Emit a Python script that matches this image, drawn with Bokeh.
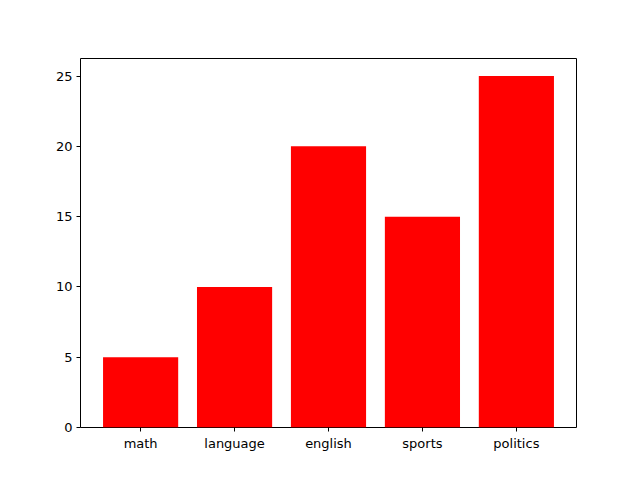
from bokeh.plotting import figure
from bokeh.models import Range1d, FixedTicker, ColumnDataSource
from bokeh.embed import file_html
from bokeh.resources import INLINE

categories = ["math", "language", "english", "sports", "politics"]
values = [5, 10, 20, 15, 25]
positions = list(range(len(categories)))
y_ticks = [0, 5, 10, 15, 20, 25]

src = ColumnDataSource(dict(x=positions, top=values))

p = figure(width=624, height=464, output_backend="svg", toolbar_location=None,
           x_range=Range1d(-0.64, len(categories) - 1 + 0.64),
           y_range=Range1d(0, 26.25),
           min_border_left=80, min_border_right=48, min_border_top=58, min_border_bottom=37)

p.vbar(x="x", top="top", bottom=0, width=0.8, source=src, fill_color="#ff0000", line_color=None)

p.xaxis.ticker = FixedTicker(ticks=positions)
p.xaxis.major_label_overrides = {i: c for i, c in zip(positions, categories)}
p.yaxis.ticker = FixedTicker(ticks=y_ticks)

for ax in (p.xaxis, p.yaxis):
    ax.axis_line_color = None
    ax.major_tick_line_color = "black"
    ax.major_tick_out = 4
    ax.major_tick_in = 0
    ax.minor_tick_line_color = None
    ax.major_label_text_font = "DejaVu Sans"
    ax.major_label_text_font_size = "13px"
    ax.major_label_text_color = "black"
    ax.major_label_standoff = 4

p.grid.visible = False
p.outline_line_color = "black"
p.outline_line_width = 1
p.background_fill_color = "white"
p.border_fill_color = "white"

open("out.html", "w").write(file_html(p, INLINE))
